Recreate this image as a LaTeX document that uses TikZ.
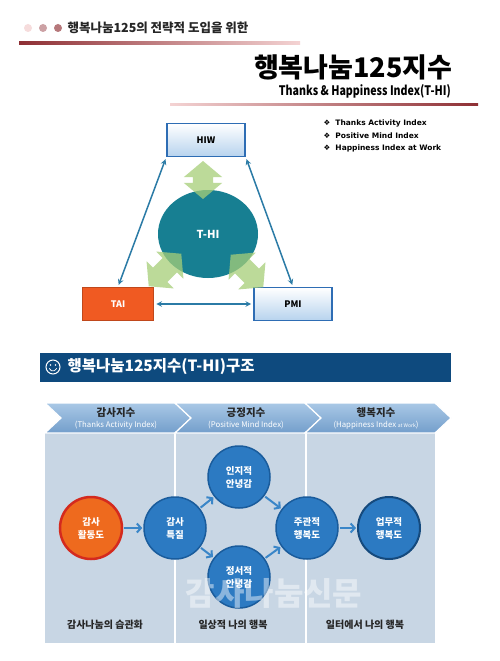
\documentclass[tikz,border=0pt]{standalone}
\usepackage{fontspec}
\usepackage{graphicx}
\usepackage{xcolor}
\usepackage{tikz}
\usetikzlibrary{shapes.geometric,shapes.arrows,arrows.meta}
\setmainfont{Noto Sans CJK KR}
\newfontfamily\latin{DejaVu Sans}
\definecolor{hdrblue}{HTML}{0E4A7E}
\definecolor{boxline}{HTML}{2E6DB4}
\definecolor{boxfill}{HTML}{B7D3EE}
\definecolor{taifill}{HTML}{F05A22}
\definecolor{tealc}{HTML}{177F92}
\definecolor{arrgreen}{HTML}{A6CE78}
\definecolor{linkblue}{HTML}{2B7BA6}
\definecolor{panel}{HTML}{C8D6E4}
\definecolor{chevtop}{HTML}{A9C8E6}
\definecolor{chevbot}{HTML}{739ECB}
\definecolor{circblue}{HTML}{2C7AC2}
\definecolor{circline}{HTML}{1A5C9C}
\definecolor{arrblue}{HTML}{3A86C8}
\definecolor{orangec}{HTML}{EE6A1E}
\definecolor{redline}{HTML}{D42A1E}
\definecolor{rosedark}{HTML}{8E2F34}
\definecolor{roselight}{HTML}{F4D3D3}

\begin{document}
\begin{tikzpicture}[x=1pt, y=-1pt, >=stealth,
  every node/.style={font=\small},
  tribox/.style={draw=boxline, line width=1.6pt, top color=white, bottom color=boxfill, minimum width=78pt, minimum height=33pt, font=\bfseries\small},
  garrow/.style={double arrow, fill=arrgreen, fill opacity=0.75, minimum height=38pt, double arrow head extend=9pt, inner xsep=0pt, inner ysep=10pt, double arrow tip angle=100},
  link/.style={<->, draw=linkblue, line width=1.5pt, shorten <=2pt, shorten >=2pt},
  chevtitle/.style={font=\bfseries\fontsize{10.5}{12}\selectfont, text=black!85},
  chevsub/.style={font=\fontsize{7.8}{9}\selectfont, text=white},
  flow/.style={circle, minimum size=62pt, inner sep=0pt, fill=circblue, draw=circline, line width=1.5pt, text=white, align=center, font=\bfseries\fontsize{9.5}{13}\selectfont},
  flowarr/.style={-{Straight Barb[length=4pt, width=9pt]}, line width=2pt, draw=arrblue, shorten <=1pt, shorten >=1pt},
  foot/.style={font=\bfseries\fontsize{10}{12}\selectfont, text=black!85}]
  \useasboundingbox[fill=white] (0,0) rectangle (500,661);

  \fill[roselight!80!white] (28,28) circle (4);
  \fill[rosedark!45!white] (43,28) circle (4);
  \fill[rosedark!65!white] (58,28) circle (4);
  \node[anchor=west, font=\bfseries\fontsize{12.5}{13}\selectfont, text=black!85] (kicker) at (64,28) {행복나눔125의 전략적 도입을 위한};
  \shade[left color=rosedark, right color=roselight] (19,42) rectangle (300,44.5);
  \node[anchor=east, font=\bfseries\fontsize{27}{27}\selectfont] (title) at (456,67) {행복나눔125지수};
  \node[anchor=east, inner sep=0pt] (subtitle) at (451,91) {\resizebox{172pt}{11pt}{\bfseries Thanks \& Happiness Index(T-HI)}};
  \shade[left color=roselight, right color=rosedark] (170,103) rectangle (478,105.5);

  \node[tribox] (hiw) at (206,140) {HIW};
  \node[tribox, top color=taifill, bottom color=taifill, draw=taifill!80!black, text=white, minimum width=71pt] (tai) at (118,304) {TAI};
  \node[tribox] (pmi) at (293,304) {PMI};
  \node[ellipse, fill=tealc, minimum width=100pt, minimum height=88pt, text=white, font=\bfseries\fontsize{11}{11}\selectfont] (thi) at (208,234) {T-HI};
  \node[garrow, rotate=90] (gtop) at (203,180) {};
  \node[garrow, rotate=45, minimum height=46pt] (gleft) at (165,270) {};
  \node[garrow, rotate=-45, minimum height=46pt] (gright) at (247,271) {};
  \draw[link] (hiw.south west) -- (tai.north);
  \draw[link] (hiw.south east) -- (pmi.north);
  \draw[link] (tai) -- (pmi);
  \node[anchor=west, align=left, font=\latin\bfseries\fontsize{7.5}{12.3}\selectfont] (legend) at (320,136) {❖\ \ Thanks Activity Index\\❖\ \ Positive Mind Index\\❖\ \ Happiness Index at Work};

  \fill[hdrblue] (40,353) rectangle (451,382);
  \draw[white, line width=1pt] (53,367) circle (7);
  \fill[white] (50.5,365) circle (0.9) (55.5,365) circle (0.9);
  \draw[white, line width=0.8pt] (49.24,368.37) arc[start angle=160, end angle=20, radius=4];
  \node[anchor=west, text=white, font=\bfseries\fontsize{15.5}{15.5}\selectfont] (section) at (64,367) {행복나눔125지수(T-HI)구조};

  \fill[panel] (45,433) rectangle (435,643);
  \draw[white, line width=2pt] (175,433) -- (175,643) (306,433) -- (306,643);
  \foreach \x/\n/\t/\s in {45/a/감사지수/{(Thanks Activity Index)}, 175/b/긍정지수/{(Positive Mind Index)}, 305/c/행복지수/{(Happiness Index {\tiny at Work})}} {
    \draw[white, line width=1.2pt, top color=chevtop, bottom color=chevbot] (\x,403) -- ++(130,0) -- ++(16,15) -- ++(-16,15) -- ++(-130,0) -- ++(16,-15) -- cycle;
    \node[chevtitle] (ct\n) at (\x+71,413) {\t};
    \node[chevsub] (cs\n) at (\x+71,425) {\s};
  }

  \node[flow, fill=orangec, draw=redline, line width=2.5pt] (act) at (91,528) {감사\\활동도};
  \node[flow] (trait) at (175,528) {감사\\특질};
  \node[flow] (cog) at (239,477) {인지적\\안녕감};
  \node[flow] (emo) at (239,577) {정서적\\안녕감};
  \node[flow] (subj) at (307,528) {주관적\\행복도};
  \node[flow, draw=circline!80!black, line width=2pt] (work) at (389,528) {업무적\\행복도};
  \draw[flowarr] (act) -- (trait);
  \draw[flowarr] (trait) -- (cog);
  \draw[flowarr] (trait) -- (emo);
  \draw[flowarr] (cog) -- (subj);
  \draw[flowarr] (emo) -- (subj);
  \draw[flowarr] (subj) -- (work);
  \node[foot] (fa) at (105,625) {감사나눔의 습관화};
  \node[foot] (fb) at (233,625) {일상적 나의 행복};
  \node[foot] (fc) at (365,625) {일터에서 나의 행복};
  \node[text=white, opacity=0.45, font=\bfseries\fontsize{32}{32}\selectfont] (mark) at (274,593) {감사나눔신문};
\end{tikzpicture}
\end{document}
